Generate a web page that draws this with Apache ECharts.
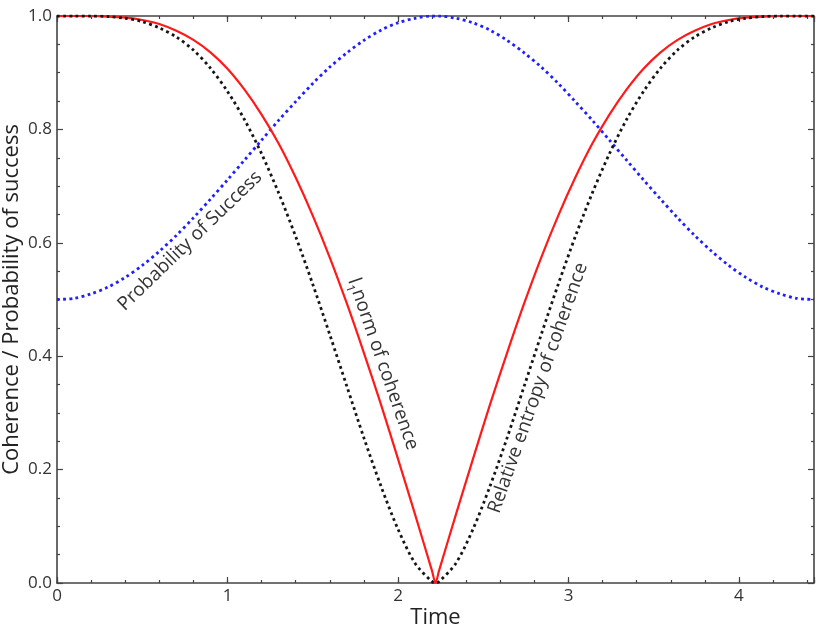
<!DOCTYPE html>
<html>
<head>
<meta charset="utf-8">
<script src="https://cdn.jsdelivr.net/npm/echarts@6/dist/echarts.min.js"></script>
<style>
html,body{margin:0;padding:0;background:#fff;}
#main{width:827px;height:629px;}
</style>
</head>
<body>
<div id="main"></div>
<script>
// time axis (curves are mirrored around the minimum at ~2.22)
var times = [0,0.1,0.2,0.3,0.4,0.5,0.6,0.7,0.8,0.9,1.0,1.1,1.2,1.3,1.4,1.5,1.6,1.7,1.8,1.9,2.0,2.1,2.2,2.22,
    2.24,2.34,2.44,2.54,2.64,2.74,2.84,2.94,3.04,3.14,3.24,3.34,3.44,3.54,3.64,3.74,3.84,3.94,4.04,4.14,4.24,4.34,4.44];

// probability of success (blue dotted)
var probSuccess = [0.500,0.502,0.510,0.522,0.539,0.560,0.585,0.613,0.644,0.677,0.711,0.746,0.781,0.816,0.849,0.881,0.910,0.935,0.957,0.975,0.988,0.996,1.000,1.000,
    1.000,0.996,0.988,0.975,0.957,0.935,0.910,0.881,0.849,0.816,0.781,0.746,0.711,0.677,0.644,0.613,0.585,0.560,0.539,0.522,0.510,0.502,0.500];

// l1 norm of coherence (red solid)
var l1Norm = [1.000,1.000,1.000,0.999,0.997,0.993,0.986,0.974,0.958,0.936,0.907,0.870,0.826,0.775,0.715,0.648,0.574,0.493,0.406,0.315,0.219,0.121,0.021,0.000,
    0.021,0.121,0.219,0.315,0.406,0.493,0.574,0.648,0.715,0.775,0.826,0.870,0.907,0.936,0.958,0.974,0.986,0.993,0.997,0.999,1.000,1.000,1.000];

// relative entropy of coherence (black dotted)
var relEntropy = [1.000,1.000,1.000,0.999,0.996,0.990,0.979,0.963,0.940,0.908,0.867,0.817,0.757,0.688,0.611,0.527,0.438,0.347,0.256,0.171,0.095,0.035,0.002,0.000,
    0.002,0.035,0.095,0.171,0.256,0.347,0.438,0.527,0.611,0.688,0.757,0.817,0.867,0.908,0.940,0.963,0.979,0.990,0.996,0.999,1.000,1.000,1.000];

var xMin = 0, xMax = 4.44;
var yTicks = ['0.0','0.2','0.4','0.6','0.8','1.0'];

var FONT = 'Open Sans';
var AXIS_COLOR = '#444';
var TEXT_COLOR = '#333';

function pairs(ys){
    var out = [];
    for(var i=0;i<times.length;i++){
        out.push([times[i], ys[i]]);
    }
    return out;
}

// x axis: major (interval 1) and minor (0.2) drawn as two overlapping axes
function makeX(pos, interval, tickLen, withLabel){
    var ax = {
        type:'value', position:pos, min:xMin, max:xMax, interval:interval,
        axisLine:{show:interval==1, onZero:false, lineStyle:{color:AXIS_COLOR, width:1.6}},
        axisTick:{show:true, inside:true, length:tickLen, lineStyle:{color:AXIS_COLOR, width:1.2}},
        axisLabel:{show:false},
        splitLine:{show:false}
    };
    if(withLabel){
        ax.axisLabel = {
            show:true, margin:5, color:TEXT_COLOR, fontFamily:FONT, fontSize:17,
            formatter:function(v){ return (v % 1 === 0) ? String(v) : ''; }
        };
        ax.name = 'Time';
        ax.nameLocation = 'middle';
        ax.nameGap = 24;
        ax.nameMoveOverlap = false;
        ax.nameTextStyle = {color:'#222', fontFamily:FONT, fontSize:22};
    }
    return ax;
}

function makeY(pos, withLabel){
    var ax = {
        type:'value', position:pos, min:0, max:1, interval:0.2,
        axisLine:{show:true, onZero:false, lineStyle:{color:AXIS_COLOR, width:1.6}},
        axisTick:{show:true, inside:true, length:6, lineStyle:{color:AXIS_COLOR, width:1.2}},
        minorTick:{show:true, splitNumber:4, length:3, lineStyle:{color:AXIS_COLOR, width:1.2}},
        axisLabel:{show:false},
        splitLine:{show:false}
    };
    if(withLabel){
        ax.axisLabel = {
            show:true, margin:5, color:TEXT_COLOR, fontFamily:FONT, fontSize:17,
            formatter:function(v){ return yTicks[Math.round(v*5)]; }
        };
        ax.name = 'Coherence / Probability of success';
        ax.nameLocation = 'middle';
        ax.nameGap = 34;
        ax.nameMoveOverlap = false;
        ax.nameTextStyle = {color:'#222', fontFamily:FONT, fontSize:22};
    }
    return ax;
}

var myChart = echarts.init(document.getElementById('main'), null, {renderer:'canvas'});

var option = {
    animation:false,
    backgroundColor:'#fff',
    grid:{left:57, right:13, top:16, bottom:46, containLabel:false, outerBoundsMode:'none'},
    xAxis:[
        makeX('bottom', 1, 6, true),
        makeX('bottom', 0.2, 3, false),
        makeX('top', 1, 6, false),
        makeX('top', 0.2, 3, false)
    ],
    yAxis:[
        makeY('left', true),
        makeY('right', false)
    ],
    series:[
        {
            name:'Probability of Success', type:'line', xAxisIndex:0, yAxisIndex:0,
            data:pairs(probSuccess), smooth:0.3, showSymbol:false, symbol:'none',
            lineStyle:{color:'#1f1fff', width:2.8, type:[2.8,3.4], cap:'butt'}
        },
        {
            name:'l1 norm of coherence', type:'line', xAxisIndex:0, yAxisIndex:0,
            data:pairs(l1Norm), smooth:0.3, showSymbol:false, symbol:'none',
            lineStyle:{color:'#ff1a1a', width:2.2}
        },
        {
            name:'Relative entropy of coherence', type:'line', xAxisIndex:0, yAxisIndex:0,
            data:pairs(relEntropy), smooth:0.3, showSymbol:false, symbol:'none',
            lineStyle:{color:'#151515', width:2.8, type:[2.8,3.4], cap:'butt'}
        }
    ],
    graphic:[
        {
            type:'text', x:190, y:241, rotation:44*Math.PI/180,
            style:{text:'Probability of Success', fill:'#333', font:'19px "Open Sans"', align:'center', verticalAlign:'middle'}
        },
        {
            type:'text', x:383, y:364, rotation:-70.7*Math.PI/180,
            style:{
                text:'{a|l}{s|1}{a|norm of coherence}', fill:'#333', align:'center', verticalAlign:'middle',
                rich:{
                    a:{fontFamily:FONT, fontSize:19, fill:'#333', lineHeight:24, verticalAlign:'middle'},
                    s:{fontFamily:FONT, fontSize:12, fill:'#333', lineHeight:24, verticalAlign:'bottom'}
                }
            }
        },
        {
            type:'text', x:538, y:388, rotation:70.5*Math.PI/180,
            style:{text:'Relative entropy of coherence', fill:'#333', font:'19px "Open Sans"', align:'center', verticalAlign:'middle'}
        }
    ]
};

myChart.setOption(option);
</script>
</body>
</html>
